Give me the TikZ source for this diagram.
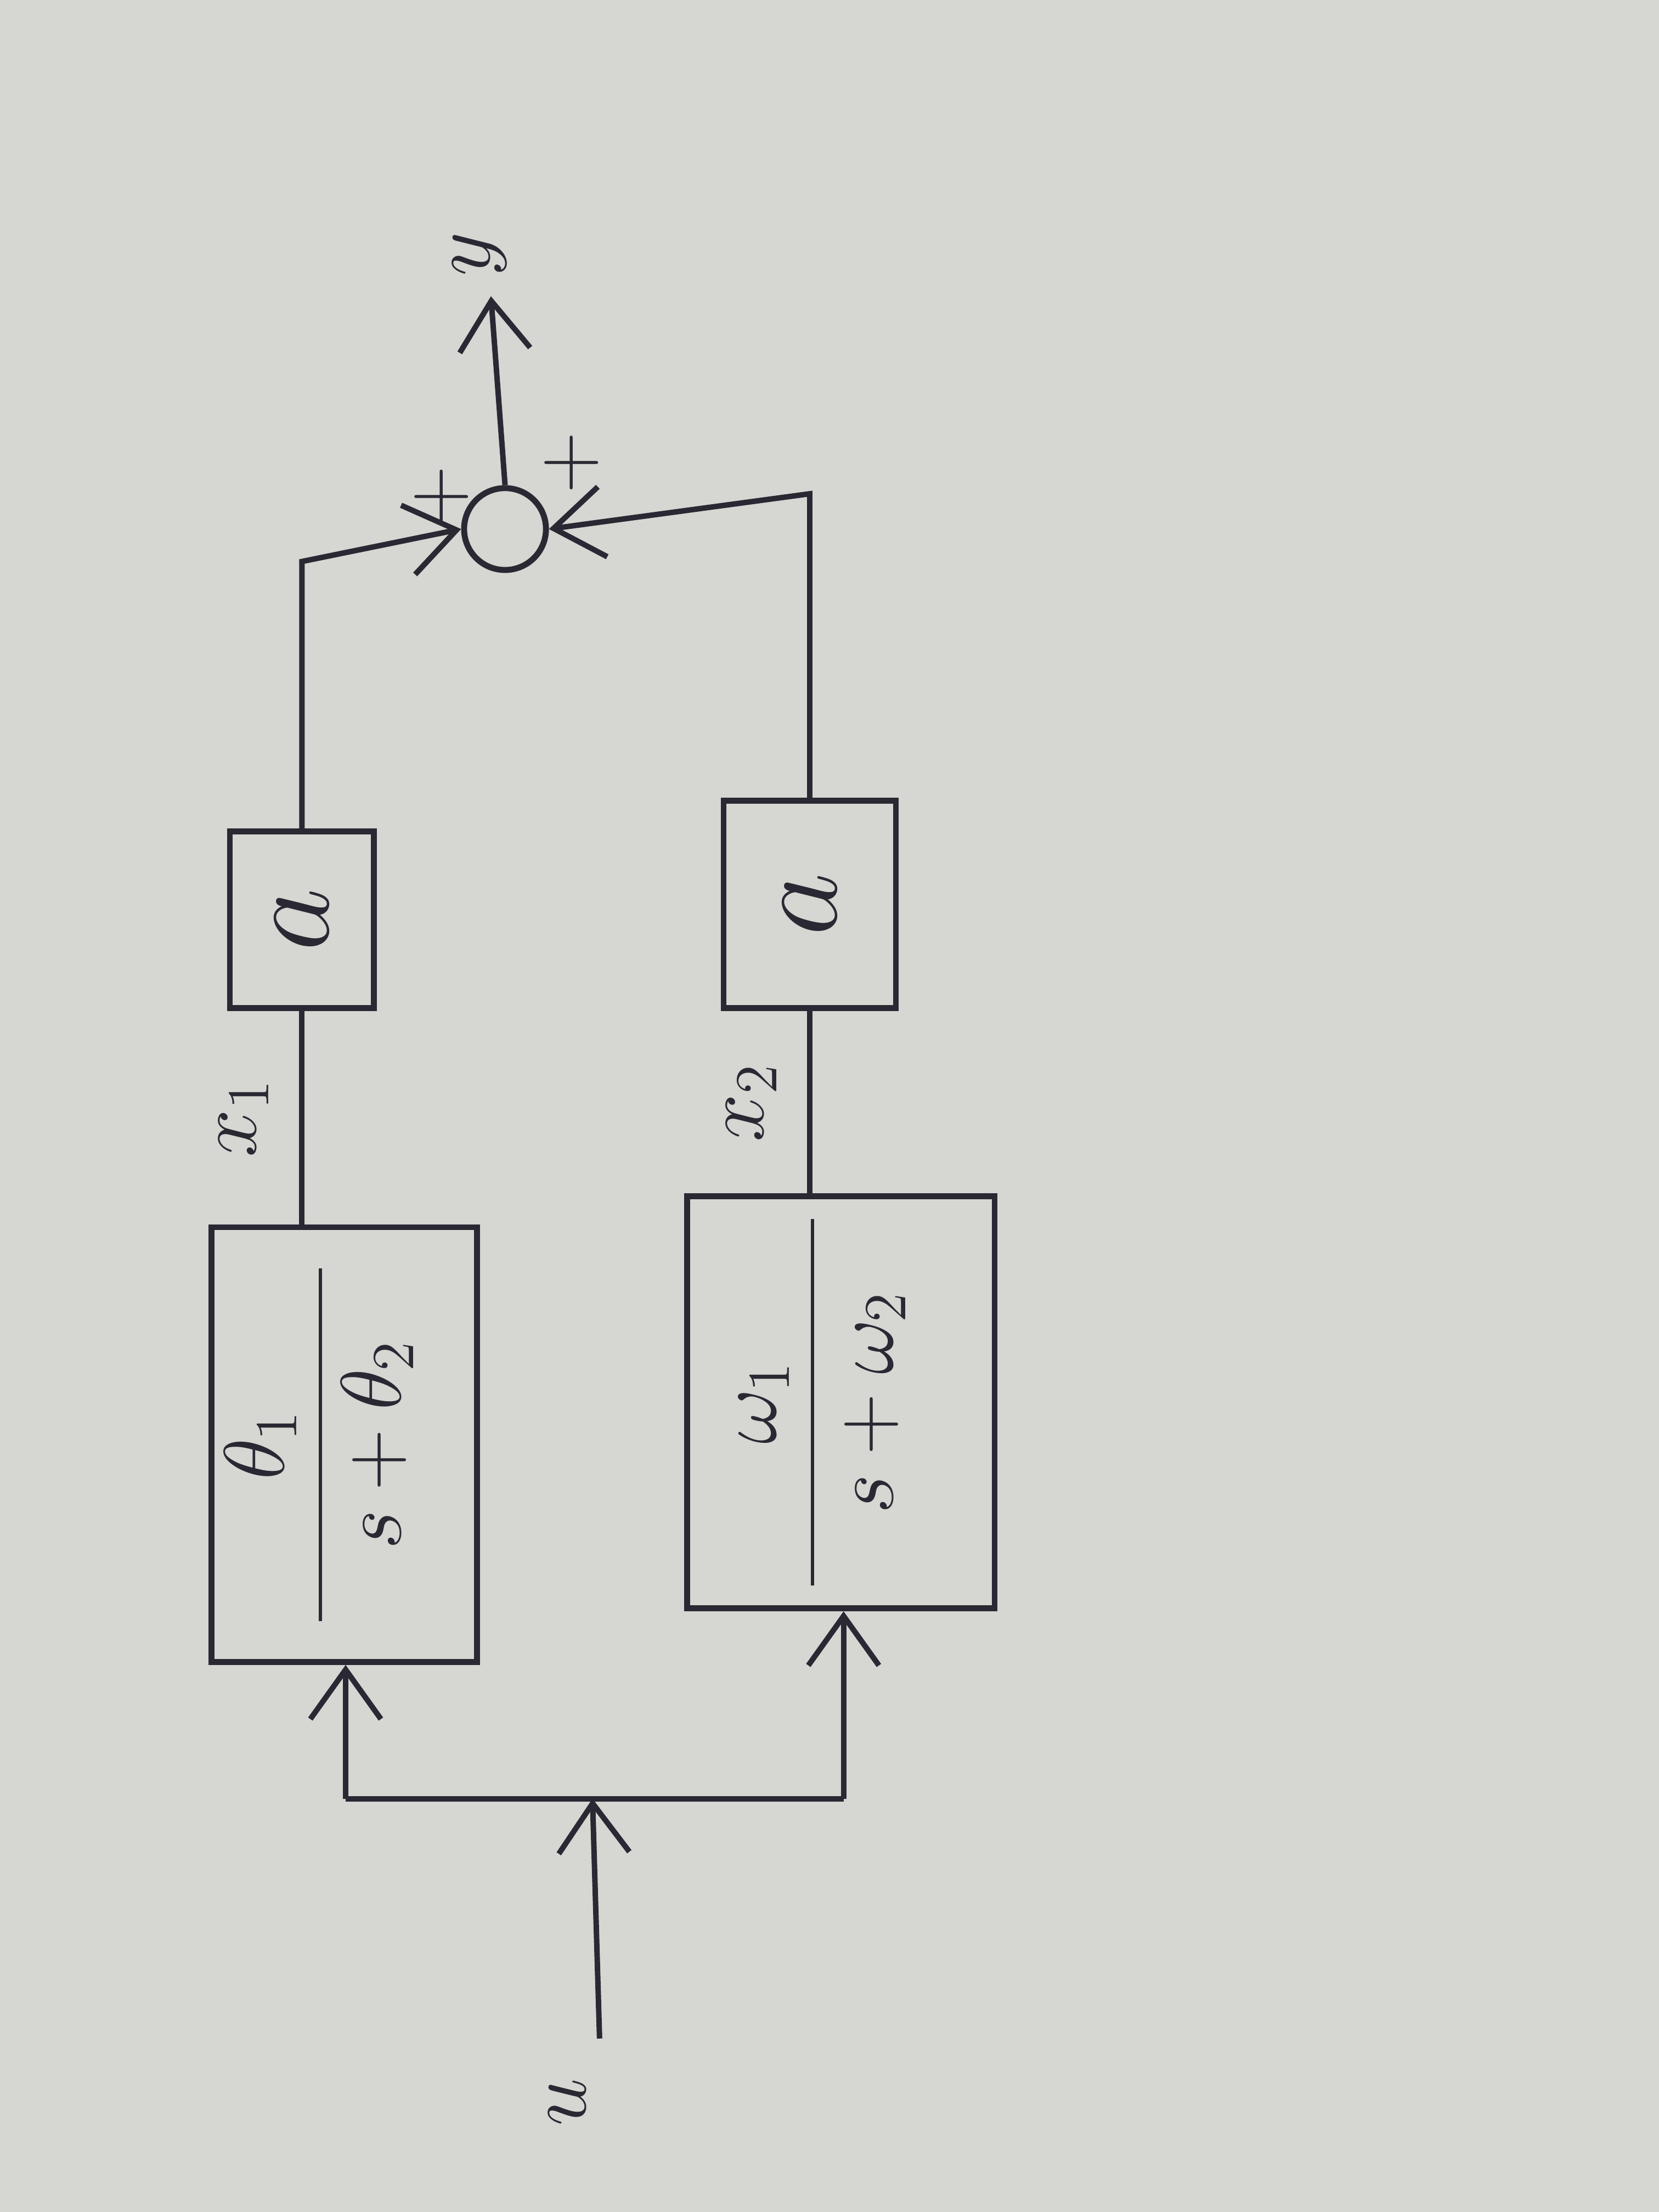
\documentclass[tikz,border=0pt]{standalone}
\usepackage{xcolor}
\usepackage{tikz}
\usepackage{amsmath}
\usepackage{graphicx}
\usetikzlibrary{shapes.geometric, arrows.meta, positioning, calc}
\definecolor{paper}{HTML}{D6D6D2}
\definecolor{ink}{HTML}{2A2833}
\tikzstyle{block} = [rectangle, draw=ink, line width=1.2pt, text=ink, inner sep=0pt]
\tikzstyle{gain} = [block, font=\Huge]
\tikzstyle{summer} = [circle, draw=ink, line width=1.2pt, minimum size=0.58cm, inner sep=0pt]
\tikzstyle{wire} = [line width=1.1pt, color=ink]
\tikzstyle{arrow} = [line width=1.1pt, color=ink, -{Straight Barb[length=3.5mm, width=5mm]}]

\begin{document}
\begin{tikzpicture}[x=0.01cm, y=-0.01cm, every node/.style={text=ink, font=\LARGE}]
    \fill[paper] (0,0) rectangle (1176,1568);
    \node[block, minimum width=1.88cm, minimum height=3.08cm] (lag1) at (244,1024) {\rotatebox{90}{$\dfrac{\theta_1}{\;\;\;s + \theta_2\;\;\;}$}\rule{0.36cm}{0pt}};
    \node[gain, minimum width=1.02cm, minimum height=1.25cm] (gain1) at (214,652) {\rotatebox{90}{$a$}};
    \node[block, minimum width=2.18cm, minimum height=2.92cm] (lag2) at (596,994) {\rotatebox{90}{$\dfrac{\omega_1}{\;\;\;s + \omega_2\;\;\;}$}\rule{0.26cm}{0pt}};
    \node[gain, minimum width=1.22cm, minimum height=1.47cm] (gain2) at (574,641) {\rotatebox{90}{$a$}};
    \node[summer] (sum) at (358,375) {};
    \node (plus1) at (313,352) {$+$};
    \node (plus2) at (405,328) {$+$};
    \node (ulab) at (402,1490) {\rotatebox{90}{$u$}};
    \node (ylab) at (340,180) {\rotatebox{90}{$y$}};
    \coordinate (uin) at (425,1445);
    \coordinate (split) at (420,1275);
    \coordinate (bl) at (245,1275);
    \coordinate (br) at (598,1275);
    \coordinate (c1) at (200,398);
    \coordinate (c2) at (555,350);
    \coordinate (yout) at (348,210);

    \draw[arrow] (uin) -- (split);
    \draw[wire] (bl) -- (br);
    \draw[arrow] (bl) -- (bl |- lag1.south);
    \draw[arrow] (br) -- (br |- lag2.south);
    \draw[wire] (gain1.south |- lag1.north) -- node[left=1mm] {\rotatebox{90}{$x_1$}} (gain1.south);
    \draw[wire] (gain2.south |- lag2.north) -- node[left=1mm] {\rotatebox{90}{$x_2$}} (gain2.south);
    \draw[arrow] (gain1.north) -- (gain1.north |- c1) -- (sum.west);
    \draw[arrow] (gain2.north) -- (gain2.north |- c2) -- (sum.east);
    \draw[arrow] (sum.north) -- (yout);
\end{tikzpicture}
\end{document}
